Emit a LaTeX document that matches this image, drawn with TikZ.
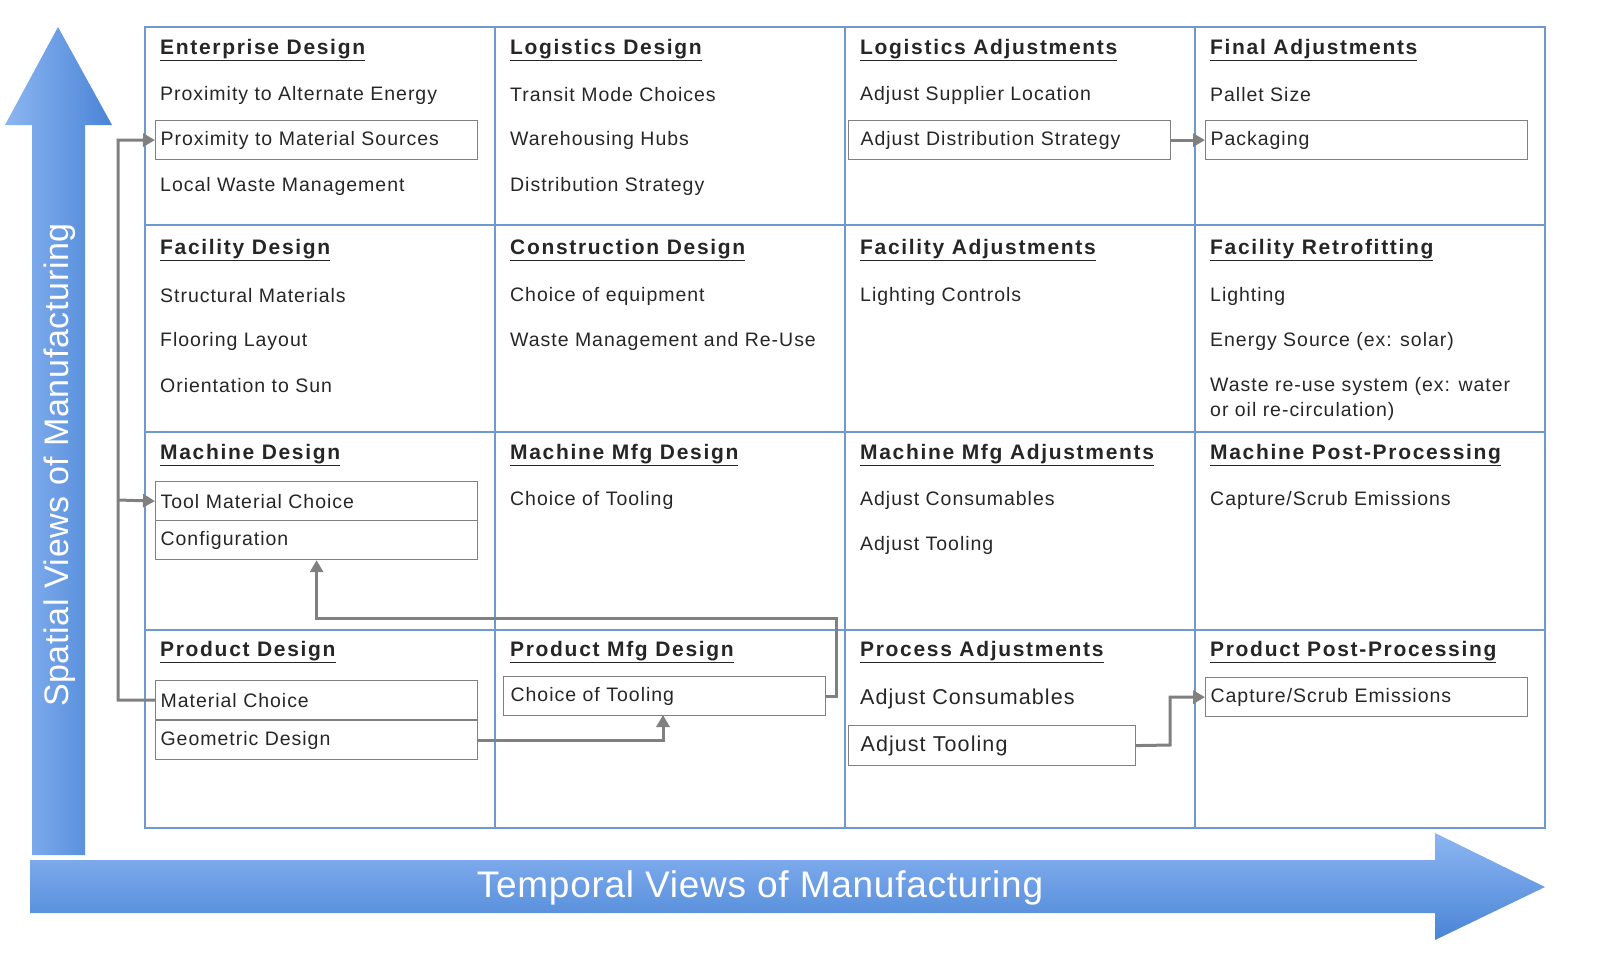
\documentclass[tikz,border=0pt]{standalone}
\usepackage{fontspec}
\setmainfont{Liberation Sans}
\newfontfamily\itfont[LetterSpace=5]{Liberation Sans}
\newfontfamily\hdfont[LetterSpace=8]{Liberation Sans}
\newfontfamily\ttlfont[LetterSpace=2]{Liberation Sans}
\usetikzlibrary{arrows.meta}
\definecolor{gridc}{HTML}{6F98CF}
\definecolor{conc}{HTML}{808080}
\definecolor{arl}{HTML}{8CB6F2}
\definecolor{ard}{HTML}{4A84D6}
\begin{document}
\begin{tikzpicture}[x=1pt,y=-1pt,
 hd/.style={anchor=west,font=\hdfont\fontsize{21}{23}\selectfont\bfseries,text=black!85,inner sep=0pt},
 it/.style={anchor=west,font=\itfont\fontsize{19.5}{21}\selectfont,text=black!85,inner sep=0pt},
 bx/.style={draw=black!50,line width=1.2pt,anchor=north west,text width=312pt,inner xsep=5pt,minimum height=39pt,align=left,font=\itfont\fontsize{19.5}{21}\selectfont,text=black!85,inner ysep=0pt},
 con/.style={draw=conc,line width=3pt,-{Triangle[length=12pt,width=13pt]}},
 conl/.style={draw=conc,line width=3pt}]
\useasboundingbox (0,0) rectangle (1600,964);
\begin{pgfinterruptboundingbox}
\shade[left color=arl,right color=ard]
 (32,855) -- (32,125) -- (5,125) -- (58,27) -- (112,125) -- (85,125) -- (85,855) -- cycle;
\shade[top color=arl,bottom color=ard]
 (30,860) -- (1435,860) -- (1435,833) -- (1545,887) -- (1435,940) -- (1435,913) -- (30,913) -- cycle;
\end{pgfinterruptboundingbox}
\node[rotate=90,text=white,font=\ttlfont\fontsize{34}{36}\selectfont] (sp) at (60,465) {Spatial Views of Manufacturing};
\node[text=white,font=\ttlfont\fontsize{37}{40}\selectfont] (tp) at (760,888) {Temporal Views of Manufacturing};
% grid
\draw[gridc,line width=1.5pt] (145,27) rectangle (1545,828);
\foreach \x in {495,845,1195} \draw[gridc,line width=1.5pt] (\x,27) -- (\x,828);
\foreach \y in {225,432,630} \draw[gridc,line width=1.5pt] (145,\y) -- (1545,\y);
% row 1
\node[hd] (h11) at (160,50) {\underline{Enterprise Design}};
\node[it] (i111) at (160,95) {Proximity to Alternate Energy};
\node[bx] (b112) at (155,120) {Proximity to Material Sources};
\node[it] (i113) at (160,186) {Local Waste Management};
\node[hd] (h12) at (510,50) {\underline{Logistics Design}};
\node[it] (i121) at (510,95) {Transit Mode Choices};
\node[it] (i122) at (510,140) {Warehousing Hubs};
\node[it] (i123) at (510,186) {Distribution Strategy};
\node[hd] (h13) at (860,50) {\underline{Logistics Adjustments}};
\node[it] (i131) at (860,95) {Adjust Supplier Location};
\node[bx] (b132) at (848,120) {\hspace*{7pt}Adjust Distribution Strategy};
\node[hd] (h14) at (1210,50) {\underline{Final Adjustments}};
\node[it] (i141) at (1210,95) {Pallet Size};
\node[bx] (b142) at (1205,120) {Packaging};
% row 2
\node[hd] (h21) at (160,250) {\underline{Facility Design}};
\node[it] (i211) at (160,296) {Structural Materials};
\node[it] (i212) at (160,341) {Flooring Layout};
\node[it] (i213) at (160,386) {Orientation to Sun};
\node[hd] (h22) at (510,250) {\underline{Construction Design}};
\node[it] (i221) at (510,296) {Choice of equipment};
\node[it] (i222) at (510,341) {Waste Management and Re-Use};
\node[hd] (h23) at (860,250) {\underline{Facility Adjustments}};
\node[it] (i231) at (860,296) {Lighting Controls};
\node[hd] (h24) at (1210,250) {\underline{Facility Retrofitting}};
\node[it] (i241) at (1210,296) {Lighting};
\node[it] (i242) at (1210,341) {Energy Source (ex: solar)};
\node[it] (i243) at (1210,386) {Waste re-use system (ex: water};
\node[it] (i244) at (1210,411) {or oil re-circulation)};
% row 3
\node[hd] (h31) at (160,455) {\underline{Machine Design}};
\node[bx] (b311) at (155,481) {Tool Material Choice};
\node[bx] (b312) at (155,520) {Configuration};
\node[hd] (h32) at (510,455) {\underline{Machine Mfg Design}};
\node[it] (i321) at (510,500) {Choice of Tooling};
\node[hd] (h33) at (860,455) {\underline{Machine Mfg Adjustments}};
\node[it] (i331) at (860,500) {Adjust Consumables};
\node[it] (i332) at (860,545) {Adjust Tooling};
\node[hd] (h34) at (1210,455) {\underline{Machine Post-Processing}};
\node[it] (i341) at (1210,500) {Capture/Scrub Emissions};
% row 4
\node[hd] (h41) at (160,652) {\underline{Product Design}};
\node[bx] (b411) at (155,680) {Material Choice};
\node[bx] (b412) at (155,720) {Geometric Design};
\node[hd] (h42) at (510,652) {\underline{Product Mfg Design}};
\node[bx] (b421) at (503,676) {\hspace*{2pt}Choice of Tooling};
\node[hd] (h43) at (860,652) {\underline{Process Adjustments}};
\node[it,font=\itfont\fontsize{21.5}{23}\selectfont] (i431) at (860,699) {Adjust Consumables};
\node[bx,text width=277pt,minimum height=40pt,font=\itfont\fontsize{21.5}{23}\selectfont] (b432) at (848,725) {\hspace*{7pt}Adjust Tooling};
\node[hd] (h44) at (1210,652) {\underline{Product Post-Processing}};
\node[bx] (b441) at (1205,677) {Capture/Scrub Emissions};
% connectors
\coordinate (c1) at (118,700);
\coordinate (c2) at (118,500);
\coordinate (c3) at (118,140);
\draw[conl] (b411.west) -- (c1) -- (c2);
\draw[con] (c2) -- (b311.west);
\draw[con] (c2) -- (c3) -- (b112.west);
\draw[con] (b412.east) -| (663,715);
\draw[con] (b421.east) -| (836,618) -| (b312.south);
\draw[con] (b132.east) -- (b142.west);
\draw[con] (b432.east) -- (1170,745) |- (b441.west);
\end{tikzpicture}
\end{document}
